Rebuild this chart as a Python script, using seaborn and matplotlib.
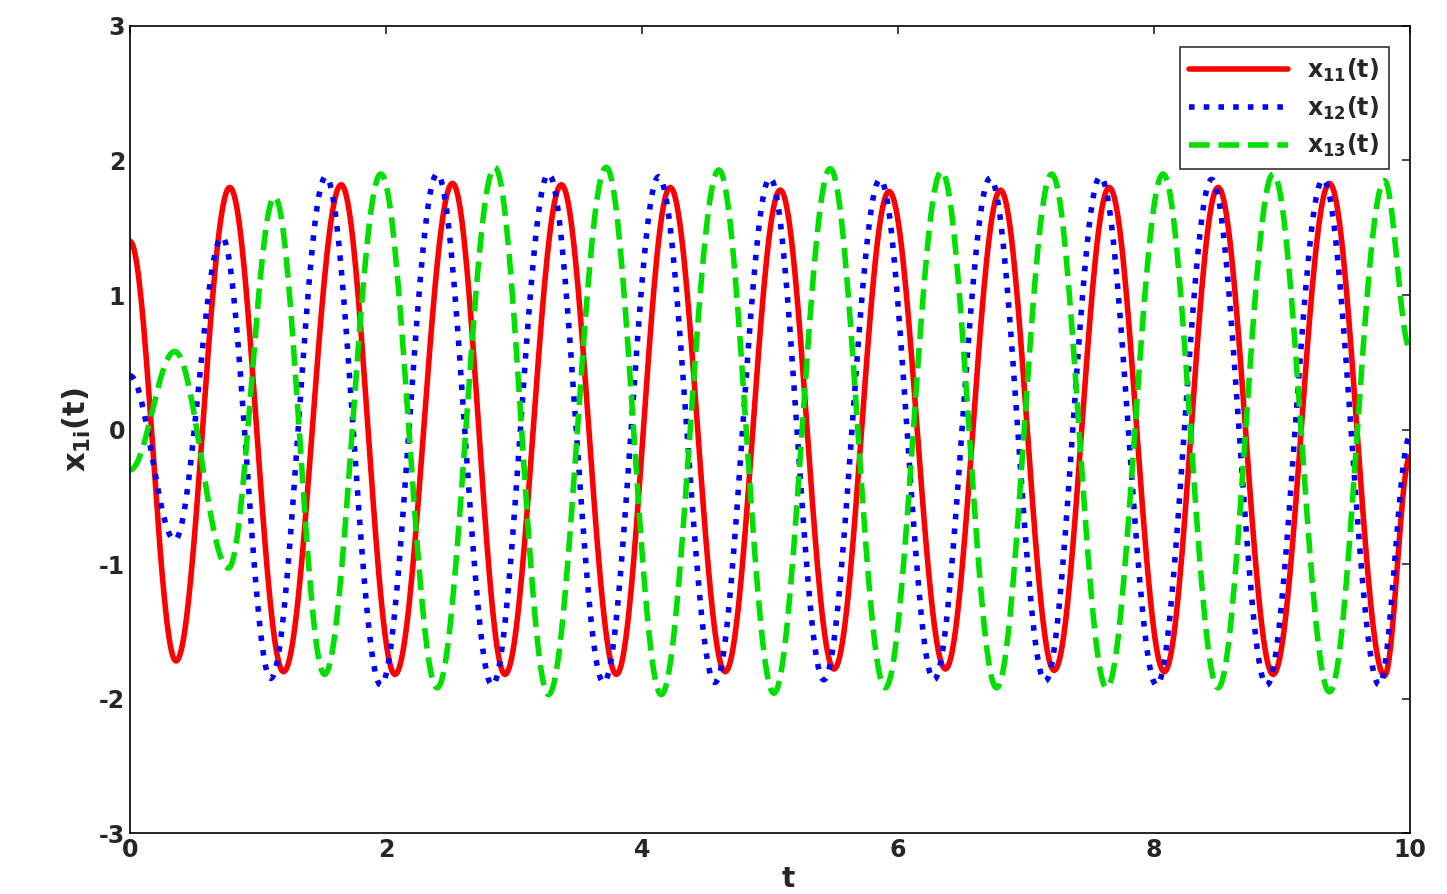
import numpy as np
import pandas as pd
import matplotlib
matplotlib.use("Agg")
import matplotlib.pyplot as plt
import seaborn as sns

# Extrema: (time, value), including start and end points
x11_t = [0, 0.36, 0.78, 1.20, 1.65, 2.07, 2.52, 2.93, 3.37, 3.80, 4.22, 4.65, 5.08, 5.50, 5.93, 6.37, 6.80, 7.22, 7.65, 8.08, 8.50, 8.93, 9.37, 9.80, 10]
x11_v = [1.4, -1.72, 1.80, -1.80, 1.82, -1.82, 1.83, -1.82, 1.82, -1.82, 1.80, -1.80, 1.78, -1.78, 1.77, -1.78, 1.78, -1.79, 1.80, -1.80, 1.80, -1.82, 1.83, -1.83, -0.2]
x12_t = [0, 0.35, 0.72, 1.10, 1.53, 1.96, 2.40, 2.83, 3.27, 3.70, 4.13, 4.57, 5.00, 5.42, 5.86, 6.28, 6.72, 7.15, 7.58, 8.02, 8.45, 8.88, 9.32, 9.76, 10]
x12_v = [0.4, -0.82, 1.43, -1.85, 1.88, -1.90, 1.90, -1.90, 1.90, -1.88, 1.88, -1.88, 1.87, -1.86, 1.86, -1.86, 1.87, -1.87, 1.88, -1.90, 1.86, -1.90, 1.86, -1.90, -0.05]
x13_t = [0, 0.35, 0.77, 1.13, 1.52, 1.96, 2.40, 2.85, 3.27, 3.72, 4.15, 4.60, 5.03, 5.47, 5.90, 6.34, 6.77, 7.20, 7.63, 8.07, 8.50, 8.93, 9.37, 9.80, 10]
x13_v = [-0.3, 0.58, -1.03, 1.73, -1.82, 1.90, -1.92, 1.95, -1.97, 1.95, -1.97, 1.93, -1.96, 1.94, -1.92, 1.92, -1.92, 1.90, -1.92, 1.90, -1.92, 1.90, -1.95, 1.85, 0.6]

labels = [r'$\mathbf{x_{11}(t)}$', r'$\mathbf{x_{12}(t)}$', r'$\mathbf{x_{13}(t)}$']

def smooth(ts, vs, n=40):
    T, V = [], []
    for i in range(len(ts) - 1):
        s = np.linspace(0, 1, n, endpoint=False)
        w = (1 - np.cos(np.pi * s)) / 2
        T.extend(ts[i] + (ts[i+1] - ts[i]) * s)
        V.extend(vs[i] + (vs[i+1] - vs[i]) * w)
    T.append(ts[-1]); V.append(vs[-1])
    return np.array(T), np.array(V)

frames = []
for lab, ts, vs in zip(labels, [x11_t, x12_t, x13_t], [x11_v, x12_v, x13_v]):
    T, V = smooth(ts, vs)
    frames.append(pd.DataFrame({"t": T, "v": V, "s": lab}))
df = pd.concat(frames)

sns.set_style("white")
plt.rcParams['font.family'] = ['DejaVu Sans']
plt.rcParams['axes.unicode_minus'] = False
fig = plt.figure(figsize=(14.47, 8.94), dpi=100)
ax = fig.add_axes([0.0898, 0.068, 0.8847, 0.903])

colors = ['#ff0000', '#0000ff', '#00e000']
styles = ['-', ':', '--']
for lab, c, ls in zip(labels, colors, styles):
    d = df[df.s == lab]
    sns.lineplot(data=d, x="t", y="v", ax=ax, color=c, linestyle=ls, lw=4, label=lab, sort=False)

ax.set_xlim(0, 10)
ax.set_ylim(-3, 3)
ax.set_xticks(range(0, 11, 2))
ax.set_yticks(range(-3, 4))
for lbl in ax.get_xticklabels() + ax.get_yticklabels():
    lbl.set_fontweight('bold')
ax.tick_params(direction='in', labelsize=17, length=6, width=1.2, top=True, right=True)
ax.set_xlabel('t', fontsize=20, fontweight='bold', labelpad=4)
ax.xaxis.set_label_coords(0.514, -0.04)
ax.set_ylabel(r'x$_{\mathbf{1i}}$(t)', fontsize=22, fontweight='bold')
for sp in ax.spines.values():
    sp.set_linewidth(1.2); sp.set_color('black')
leg = ax.legend(loc='upper right', fontsize=17, frameon=True, fancybox=False,
                edgecolor='black', handlelength=4.2, borderaxespad=0.9,
                labelspacing=0.45)
leg.get_frame().set_linewidth(1.2)
fig.savefig("out.png", dpi=100)
